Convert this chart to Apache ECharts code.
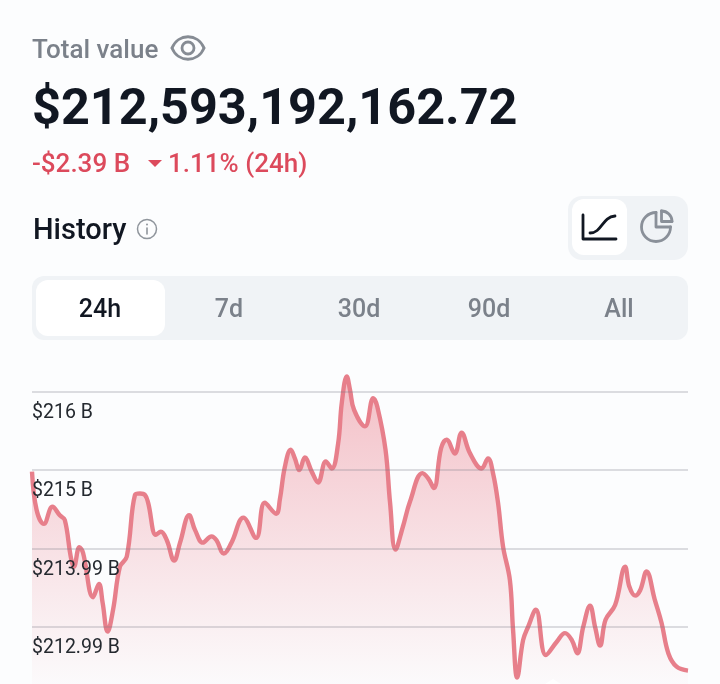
<!DOCTYPE html>
<html><head><meta charset="utf-8">
<style>html,body{margin:0;padding:0;background:#fcfdfe}#c{width:720px;height:684px}</style>
<script src="https://cdn.jsdelivr.net/npm/echarts@6/dist/echarts.min.js"></script>
</head><body><div id="c"></div>
<script>
const minutes = [0,10,26,45,61,72,85,92,104,112,134,147,155,166,178,193,208,226,237,248,255,272,283,296,312,325,345,358,375,394,405,421,438,464,492,511,536,544,555,568,577,587,599,614,628,645,658,672,680,691,698,707,731,749,758,776,786,798,814,830,857,870,882,898,910,928,943,961,987,1001,1012,1023,1034,1049,1056,1065,1078,1089,1106,1128,1152,1170,1185,1197,1210,1225,1236,1247,1259,1280,1302,1311,1324,1335,1349,1367,1382,1397,1415,1440];
const values = [214.98,214.49,214.31,214.53,214.42,214.36,213.89,213.76,214.01,213.94,213.37,213.54,213.30,212.93,213.21,213.76,213.89,214.68,214.70,214.68,214.58,214.17,214.21,214.10,213.84,214.07,214.42,214.23,214.07,214.15,214.10,213.93,214.07,214.39,214.13,214.58,214.44,214.62,215.04,215.26,215.15,215.00,215.16,214.98,214.84,215.11,215.02,215.34,215.86,216.20,216.03,215.77,215.56,215.92,215.81,215.26,214.58,213.98,214.27,214.60,214.96,214.89,214.77,215.28,215.39,215.21,215.48,215.22,215.02,215.15,214.96,214.58,214.02,213.59,212.95,212.34,212.82,212.99,213.21,212.63,212.80,212.91,212.82,212.65,212.99,213.26,212.99,212.75,213.08,213.27,213.76,213.51,213.39,213.46,213.70,213.34,213.04,212.65,212.48,212.43];
const tickValues = [216,215,213.99,212.99];
const tickLabels = ['$216 B','$215 B','$213.99 B','$212.99 B'];
const tabs = ['24h','7d','30d','90d','All'];
const tabCenters = [100,229,359,489,619];

const FONT = 'Roboto, sans-serif';
const GREY = '#7b818a', DARK = '#111722', RED = '#dc4a5c', ICON = '#8a9099';
const txt = (x,y,text,size,fill,weight,align) => ({type:'text',x,y,silent:true,z:10,style:{text,fontFamily:FONT,fontSize:size,fill,fontWeight:weight||400,align:align||'left',verticalAlign:'middle'}});
const rrect = (x,y,w,h,r,fill) => ({type:'rect',silent:true,z:5,shape:{x,y,width:w,height:h,r},style:{fill}});
const stroke = (c,w) => ({fill:'none',stroke:c,lineWidth:w,lineCap:'round',lineJoin:'round'});
const poly = (points,c,w) => ({type:'polyline',silent:true,z:11,shape:{points},style:stroke(c,w)});
const curve = (x1,y1,cx1,cy1,cx2,cy2,x2,y2,c,w) => ({type:'bezierCurve',silent:true,z:11,shape:{x1,y1,cpx1:cx1,cpy1:cy1,cpx2:cx2,cpy2:cy2,x2,y2},style:stroke(c,w)});
const arc = (cx,cy,r,c,w) => ({type:'arc',silent:true,z:11,shape:{cx,cy,r,startAngle:-Math.PI/2,endAngle:0,clockwise:false},style:stroke(c,w)});
const arcCw = (cx,cy,r,c,w) => ({type:'arc',silent:true,z:11,shape:{cx,cy,r,startAngle:-Math.PI/2,endAngle:0,clockwise:true},style:stroke(c,w)});

const graphic = [
  txt(32,51,'Total value',26,GREY,500),
  curve(172,48,178,33,198,33,204,48,'#868c94',2.8),
  curve(172,48,178,63,198,63,204,48,'#868c94',2.8),
  {type:'circle',silent:true,z:11,shape:{cx:188,cy:48,r:6},style:stroke('#868c94',2.8)},
  txt(32,111,'$212,593,192,162.72',50.4,DARK,700),
  txt(32,165,'-$2.39 B',26,RED,500),
  {type:'polygon',silent:true,z:11,shape:{points:[[148,160],[162,160],[155,167]]},style:{fill:RED}},
  txt(168,165,'1.11% (24h)',26,RED,500),
  txt(33,232,'History',29,DARK,500),
  {type:'circle',silent:true,z:11,shape:{cx:147,cy:229,r:9.5},style:stroke('#8f959c',1.5)},
  poly([[147,228],[147,234]],'#8f959c',1.6),
  poly([[147,224.5],[147,224.6]],'#8f959c',2),
  rrect(568,196,120,64,14,'#f0f3f6'),
  rrect(572,199,55,56,12,'#ffffff'),
  poly([[583,215],[583,239],[616,239]],DARK,2.8),
  curve(590,233,602,233,602,217,615,216,DARK,2.8),
  arc(656,227,14.5,ICON,2.8),
  poly([[656,212.5],[656,227],[670.5,227]],ICON,2.8),
  arcCw(661.5,221.5,10.5,ICON,2.8),
  poly([[661.5,211],[661.5,221.5],[672,221.5]],ICON,2.8),
  rrect(32,276,656,64,12,'#f0f3f6'),
  rrect(36,280,129,56,12,'#ffffff'),
  ...tabs.map((t,i)=>txt(tabCenters[i],311,t,25,i===0?DARK:GREY,500,'center')),
  {type:'polygon',silent:true,z:12,shape:{points:[[545,684],[553,679],[561,684]]},style:{fill:'#ffffff'}}
];

const chart = echarts.init(document.getElementById('c'),null,{renderer:'canvas'});
chart.setOption({
  animation:false,
  backgroundColor:'#fcfdfe',
  graphic,
  grid:{left:32,right:32,top:370,height:314,containLabel:false},
  xAxis:{type:'value',min:0,max:1440,show:false},
  yAxis:{type:'value',min:212.258,max:216.282,z:5,
    axisLine:{show:false},
    axisTick:{show:false,customValues:tickValues},
    axisLabel:{customValues:tickValues,inside:true,margin:0,color:'#24292f',fontFamily:FONT,fontSize:19.5,verticalAlign:'top',padding:[11,0,0,0],
      formatter:(v)=>tickLabels[tickValues.indexOf(v)]},
    splitLine:{show:true,lineStyle:{color:'rgba(120,125,135,0.33)',width:1.6}}
  },
  series:[{type:'line',smooth:0.4,symbol:'none',clip:true,
    data:minutes.map((m,i)=>[m,values[i]]),
    lineStyle:{color:'#e77f8b',width:4.4},
    areaStyle:{color:new echarts.graphic.LinearGradient(0,0,0,1,[{offset:0,color:'rgba(232,110,125,0.62)'},{offset:1,color:'rgba(232,120,135,0.03)'}])}
  }]
});
</script></body></html>
